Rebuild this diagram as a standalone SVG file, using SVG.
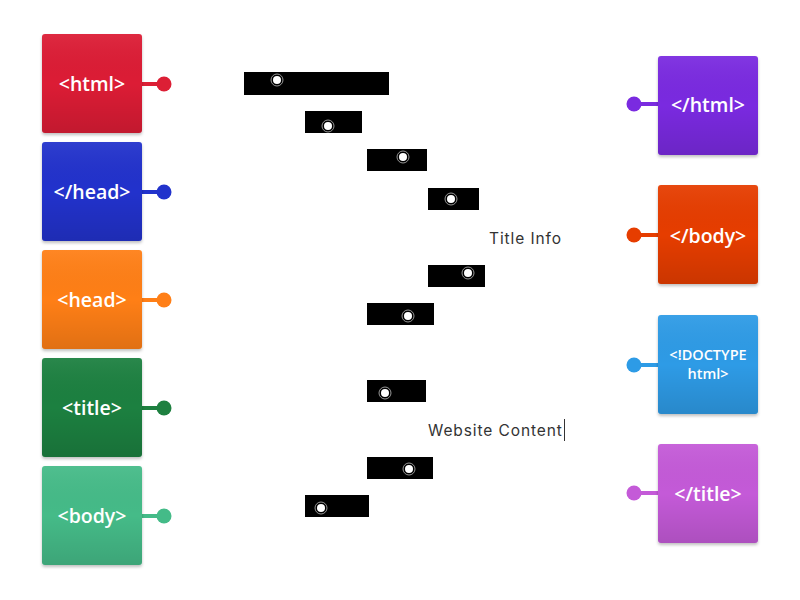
<svg xmlns="http://www.w3.org/2000/svg" width="800" height="600" viewBox="0 0 800 600">
<defs>
<style>
.lbl{font-family:"Open Sans","Noto Sans",sans-serif;font-size:19.5px;font-weight:600;fill:#fff;text-anchor:middle;dominant-baseline:central}
.lbl2{font-family:"Open Sans","Noto Sans",sans-serif;font-size:14.5px;font-weight:600;fill:#fff;text-anchor:middle}
.txt{font-family:"Inter","Liberation Sans",sans-serif;font-size:15.5px;fill:#333;letter-spacing:0.9px}
.bar{fill:#000}
.ring{fill:none;stroke:#bbb;stroke-width:0.8}
.hole{fill:#fff}
.shade{fill:url(#shade)}
</style>
<linearGradient id="shade" x1="0" y1="0" x2="0" y2="1">
<stop offset="0" stop-color="#fff" stop-opacity="0.06"/>
<stop offset="0.5" stop-color="#000" stop-opacity="0"/>
<stop offset="1" stop-color="#000" stop-opacity="0.12"/>
</linearGradient>
<filter id="sh" x="-10%" y="-10%" width="120%" height="125%">
<feDropShadow dx="0" dy="2" stdDeviation="1.5" flood-color="#000" flood-opacity="0.25"/>
</filter>
</defs>
<rect width="800" height="600" fill="#fff"/>

<g id="connectors">
<g stroke-width="4">
<line x1="142" y1="84" x2="162" y2="84" stroke="#dc1f35"/>
<line x1="142" y1="192" x2="162" y2="192" stroke="#2233cc"/>
<line x1="142" y1="300" x2="162" y2="300" stroke="#ff7f17"/>
<line x1="142" y1="408" x2="162" y2="408" stroke="#1e8040"/>
<line x1="142" y1="516" x2="162" y2="516" stroke="#44bb88"/>
<line x1="636" y1="104" x2="658" y2="104" stroke="#7a2be0"/>
<line x1="636" y1="235" x2="658" y2="235" stroke="#e63d00"/>
<line x1="636" y1="365" x2="658" y2="365" stroke="#2d9be6"/>
<line x1="636" y1="493" x2="658" y2="493" stroke="#c45ad8"/>
</g>
<circle cx="164" cy="84" r="7.5" fill="#dc1f35"/>
<circle cx="164" cy="192" r="7.5" fill="#2233cc"/>
<circle cx="164" cy="300" r="7.5" fill="#ff7f17"/>
<circle cx="164" cy="408" r="7.5" fill="#1e8040"/>
<circle cx="164" cy="516" r="7.5" fill="#44bb88"/>
<circle cx="634" cy="104" r="7.5" fill="#7a2be0"/>
<circle cx="634" cy="235" r="7.5" fill="#e63d00"/>
<circle cx="634" cy="365" r="7.5" fill="#2d9be6"/>
<circle cx="634" cy="493" r="7.5" fill="#c45ad8"/>
</g>

<g id="n-html"><rect x="42" y="34" width="100" height="99" rx="3" fill="#dc1f35" filter="url(#sh)"/><rect x="42" y="34" width="100" height="99" rx="3" class="shade"/><text class="lbl" x="92" y="83">&lt;html&gt;</text></g>
<g id="n-chead"><rect x="42" y="142" width="100" height="99" rx="3" fill="#2233cc" filter="url(#sh)"/><rect x="42" y="142" width="100" height="99" rx="3" class="shade"/><text class="lbl" x="92" y="191">&lt;/head&gt;</text></g>
<g id="n-head"><rect x="42" y="250" width="100" height="99" rx="3" fill="#ff7f17" filter="url(#sh)"/><rect x="42" y="250" width="100" height="99" rx="3" class="shade"/><text class="lbl" x="92" y="299">&lt;head&gt;</text></g>
<g id="n-title"><rect x="42" y="358" width="100" height="99" rx="3" fill="#1e8040" filter="url(#sh)"/><rect x="42" y="358" width="100" height="99" rx="3" class="shade"/><text class="lbl" x="92" y="407">&lt;title&gt;</text></g>
<g id="n-body"><rect x="42" y="466" width="100" height="99" rx="3" fill="#44bb88" filter="url(#sh)"/><rect x="42" y="466" width="100" height="99" rx="3" class="shade"/><text class="lbl" x="92" y="515">&lt;body&gt;</text></g>

<g id="n-chtml"><rect x="658" y="56" width="100" height="99" rx="3" fill="#7a2be0" filter="url(#sh)"/><rect x="658" y="56" width="100" height="99" rx="3" class="shade"/><text class="lbl" x="708" y="104">&lt;/html&gt;</text></g>
<g id="n-cbody"><rect x="658" y="185" width="100" height="99" rx="3" fill="#e63d00" filter="url(#sh)"/><rect x="658" y="185" width="100" height="99" rx="3" class="shade"/><text class="lbl" x="708" y="235">&lt;/body&gt;</text></g>
<g id="n-doctype"><rect x="658" y="315" width="100" height="99" rx="3" fill="#2d9be6" filter="url(#sh)"/><rect x="658" y="315" width="100" height="99" rx="3" class="shade"/><text class="lbl2" x="708" y="360">&lt;!DOCTYPE</text><text class="lbl2" x="708" y="379">html&gt;</text></g>
<g id="n-ctitle"><rect x="658" y="444" width="100" height="99" rx="3" fill="#c45ad8" filter="url(#sh)"/><rect x="658" y="444" width="100" height="99" rx="3" class="shade"/><text class="lbl" x="708" y="493">&lt;/title&gt;</text></g>

<g id="slots">
<rect class="bar" x="244" y="72" width="145" height="23"/><circle class="ring" cx="277" cy="80" r="6"/><circle class="hole" cx="277" cy="80" r="4"/>
<rect class="bar" x="305" y="111" width="57" height="22"/><circle class="ring" cx="328" cy="126" r="6"/><circle class="hole" cx="328" cy="126" r="4"/>
<rect class="bar" x="367" y="149" width="60" height="22"/><circle class="ring" cx="403" cy="157" r="6"/><circle class="hole" cx="403" cy="157" r="4"/>
<rect class="bar" x="428" y="188" width="51" height="22"/><circle class="ring" cx="451" cy="199" r="6"/><circle class="hole" cx="451" cy="199" r="4"/>
<text class="txt" x="489" y="244">Title Info</text>
<rect class="bar" x="428" y="265" width="57" height="22"/><circle class="ring" cx="468" cy="273" r="6"/><circle class="hole" cx="468" cy="273" r="4"/>
<rect class="bar" x="367" y="303" width="67" height="22"/><circle class="ring" cx="408" cy="316" r="6"/><circle class="hole" cx="408" cy="316" r="4"/>
<rect class="bar" x="367" y="380" width="59" height="22"/><circle class="ring" cx="385" cy="393" r="6"/><circle class="hole" cx="385" cy="393" r="4"/>
<text class="txt" x="428" y="436">Website Content</text>
<line x1="564.5" y1="419" x2="564.5" y2="441" stroke="#333" stroke-width="1"/>
<rect class="bar" x="367" y="457" width="66" height="22"/><circle class="ring" cx="409" cy="469" r="6"/><circle class="hole" cx="409" cy="469" r="4"/>
<rect class="bar" x="305" y="495" width="64" height="22"/><circle class="ring" cx="321" cy="508" r="6"/><circle class="hole" cx="321" cy="508" r="4"/>
</g>
</svg>
